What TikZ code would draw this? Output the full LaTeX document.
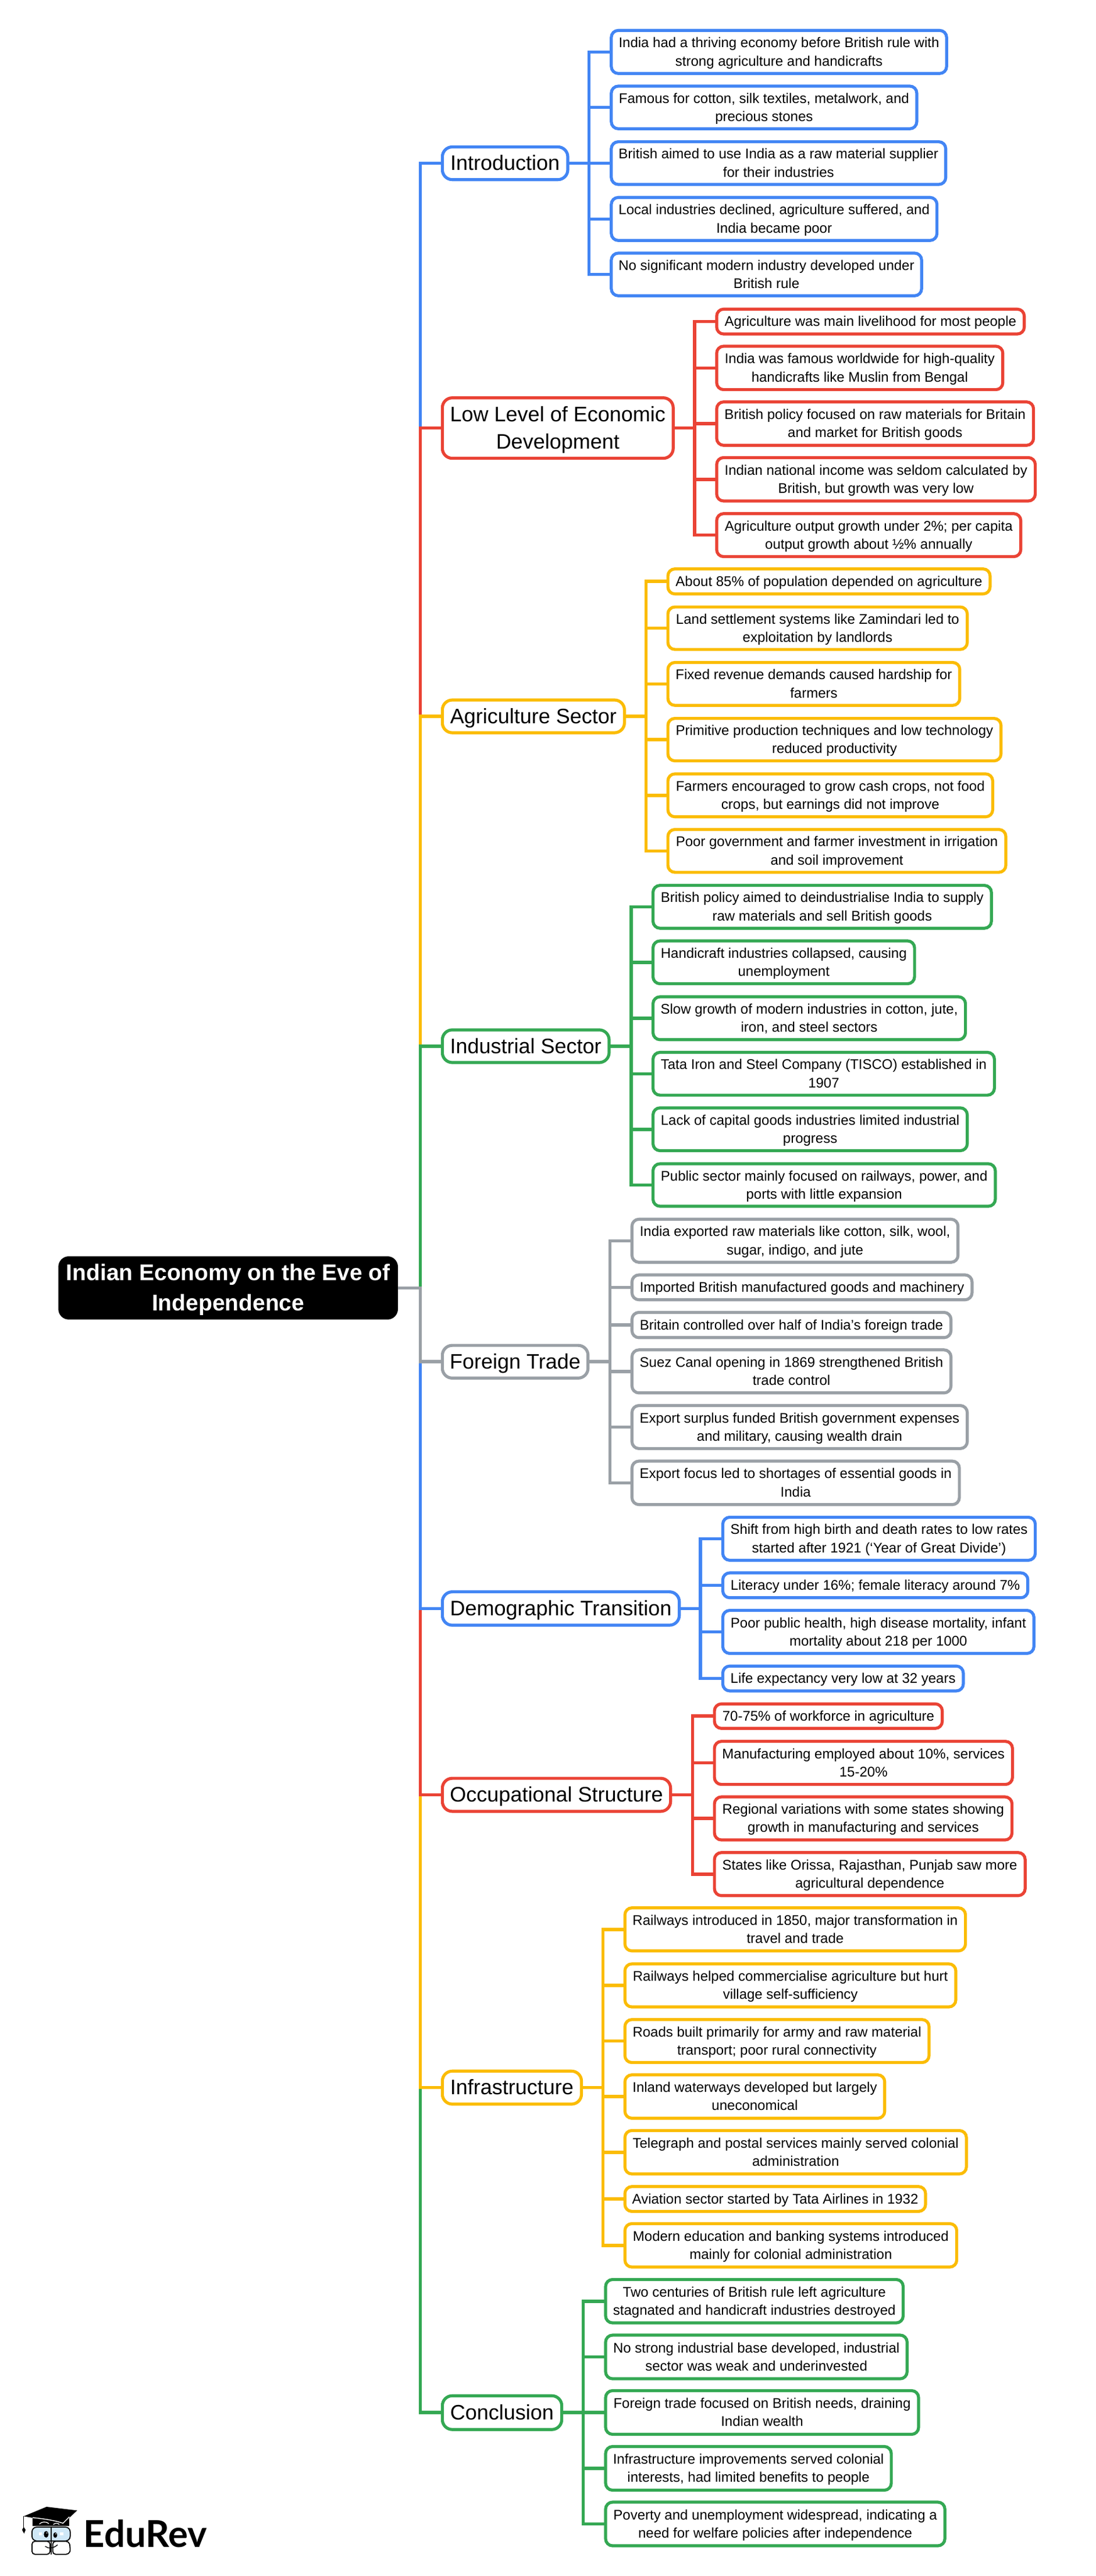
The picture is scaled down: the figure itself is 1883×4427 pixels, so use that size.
\documentclass[tikz,border=0pt]{standalone}
\usepackage{fontspec}
\setmainfont{Liberation Sans}
\newfontfamily\logofont{Lato}
\definecolor{cblue}{HTML}{4285F4}
\definecolor{cred}{HTML}{EA4335}
\definecolor{cyellow}{HTML}{FBBC04}
\definecolor{cgreen}{HTML}{34A853}
\definecolor{cgray}{HTML}{9AA0A6}
\definecolor{clens}{HTML}{CFE8F7}
\tikzset{
  leaf/.style={draw, fill=white, line width=5.2pt, rounded corners=12pt, inner sep=0pt, outer sep=0pt, align=center, text=black, font=\fontsize{24}{31.2}\selectfont},
  branch/.style={draw, fill=white, line width=5.2pt, rounded corners=17pt, inner sep=0pt, outer sep=0pt, align=center, text=black, font=\fontsize{36}{46.8}\selectfont},
  rootnode/.style={fill=black, rounded corners=18pt, inner sep=0pt, outer sep=0pt, align=center, text=white, font=\fontsize{39}{52}\selectfont\bfseries},
  link/.style={line width=5.6pt, line join=miter, line cap=butt},
}
\newcommand{\placenode}[7]{% style, name, x1, y1, x2, y2, text
  \node[#1, minimum width={(#5-#3)*1pt}, minimum height={(#6-#4)*1pt}] (#2) at ({(#3+#5)/2},{-(#4+#6)/2}) {\rule{0pt}{1em}#7\rule[-.32em]{0pt}{.32em}};}
\begin{document}
\begin{tikzpicture}[x=1pt,y=1pt]
\useasboundingbox (0,0) rectangle (1883,-4427);
% root
\placenode{rootnode}{root}{100.3}{2159}{684}{2267.7}{Indian Economy on the Eve of\\Independence}
% branches
\placenode{branch,draw=cblue}{b1}{760.4}{252.5}{976}{308.7}{Introduction}
\placenode{branch,draw=cred}{b2}{760.4}{683.7}{1157.2}{787.6}{Low Level of Economic\\Development}
\placenode{branch,draw=cyellow}{b3}{760.4}{1203}{1073.4}{1259.2}{Agriculture Sector}
\placenode{branch,draw=cgreen}{b4}{760.4}{1769.9}{1047}{1826}{Industrial Sector}
\placenode{branch,draw=cgray}{b5}{760.4}{2312.1}{1010.8}{2368.3}{Foreign Trade}
\placenode{branch,draw=cblue}{b6}{760.4}{2735.6}{1167.7}{2793}{Demographic Transition}
\placenode{branch,draw=cred}{b7}{760.4}{3056.1}{1152.7}{3112.9}{Occupational Structure}
\placenode{branch,draw=cyellow}{b8}{760.4}{3559.3}{999.5}{3616}{Infrastructure}
\placenode{branch,draw=cgreen}{b9}{760.4}{4117.2}{965.6}{4175.2}{Conclusion}
% leaves: introduction
\placenode{leaf,draw=cblue}{a1}{1050.8}{52.3}{1627.2}{126.3}{India had a thriving economy before British rule with\\strong agriculture and handicrafts}
\placenode{leaf,draw=cblue}{a2}{1050.8}{148}{1575.9}{221.3}{Famous for cotton, silk textiles, metalwork, and\\precious stones}
\placenode{leaf,draw=cblue}{a3}{1050.8}{243.6}{1625.7}{317}{British aimed to use India as a raw material supplier\\for their industries}
\placenode{leaf,draw=cblue}{a4}{1050.8}{339.3}{1610.6}{413.3}{Local industries declined, agriculture suffered, and\\India became poor}
\placenode{leaf,draw=cblue}{a5}{1050.8}{435}{1584.2}{508.3}{No significant modern industry developed under\\British rule}
% low level
\placenode{leaf,draw=cred}{c1}{1231.9}{531.3}{1760.7}{574}{Agriculture was main livelihood for most people}
\placenode{leaf,draw=cred}{c2}{1231.9}{595}{1723.8}{669.6}{India was famous worldwide for high-quality\\handicrafts like Muslin from Bengal}
\placenode{leaf,draw=cred}{c3}{1231.9}{690.7}{1776.6}{765.3}{British policy focused on raw materials for Britain\\and market for British goods}
\placenode{leaf,draw=cred}{c4}{1231.9}{786.4}{1779.6}{861}{Indian national income was seldom calculated by\\British, but growth was very low}
\placenode{leaf,draw=cred}{c5}{1231.9}{882.7}{1754.7}{956.6}{Agriculture output growth under 2\%; per capita\\output growth about ½\% annually}
% agriculture
\placenode{leaf,draw=cyellow}{d1}{1148.1}{977.7}{1701.9}{1020.7}{About 85\% of population depended on agriculture}
\placenode{leaf,draw=cyellow}{d2}{1148.1}{1043.1}{1662.7}{1116.1}{Land settlement systems like Zamindari led to\\exploitation by landlords}
\placenode{leaf,draw=cyellow}{d3}{1148.1}{1138.5}{1649.8}{1212.2}{Fixed revenue demands caused hardship for\\farmers}
\placenode{leaf,draw=cyellow}{d4}{1148.1}{1234.6}{1720.7}{1307.6}{Primitive production techniques and low technology\\reduced productivity}
\placenode{leaf,draw=cyellow}{d5}{1148.1}{1330}{1706.4}{1403.7}{Farmers encouraged to grow cash crops, not food\\crops, but earnings did not improve}
\placenode{leaf,draw=cyellow}{d6}{1148.1}{1425.5}{1729}{1499.1}{Poor government and farmer investment in irrigation\\and soil improvement}
% industrial
\placenode{leaf,draw=cgreen}{e1}{1122.5}{1521.6}{1704.2}{1595.2}{British policy aimed to deindustrialise India to supply\\raw materials and sell British goods}
\placenode{leaf,draw=cgreen}{e2}{1122.5}{1617}{1572.1}{1690.6}{Handicraft industries collapsed, causing\\unemployment}
\placenode{leaf,draw=cgreen}{e3}{1122.5}{1713}{1659.6}{1786.7}{Slow growth of modern industries in cotton, jute,\\iron, and steel sectors}
\placenode{leaf,draw=cgreen}{e4}{1122.5}{1808.5}{1709.4}{1882.1}{Tata Iron and Steel Company (TISCO) established in\\1907}
\placenode{leaf,draw=cgreen}{e5}{1122.5}{1903.9}{1662.7}{1977.5}{Lack of capital goods industries limited industrial\\progress}
\placenode{leaf,draw=cgreen}{e6}{1122.5}{2000}{1710.9}{2073}{Public sector mainly focused on railways, power, and\\ports with little expansion}
% foreign
\placenode{leaf,draw=cgray}{f1}{1086.3}{2095.3}{1646.8}{2169.3}{India exported raw materials like cotton, silk, wool,\\sugar, indigo, and jute}
\placenode{leaf,draw=cgray}{f2}{1086.3}{2191}{1670.9}{2233.7}{Imported British manufactured goods and machinery}
\placenode{leaf,draw=cgray}{f3}{1086.3}{2255.4}{1634.7}{2298.8}{Britain controlled over half of India’s foreign trade}
\placenode{leaf,draw=cgray}{f4}{1086.3}{2319.8}{1634.7}{2393.8}{Suez Canal opening in 1869 strengthened British\\trade control}
\placenode{leaf,draw=cgray}{f5}{1086.3}{2415.5}{1662.7}{2489.4}{Export surplus funded British government expenses\\and military, causing wealth drain}
\placenode{leaf,draw=cgray}{f6}{1086.3}{2511}{1649.1}{2585.7}{Export focus led to shortages of essential goods in\\India}
% demographic
\placenode{leaf,draw=cblue}{g1}{1242.4}{2607.4}{1779.6}{2681.4}{Shift from high birth and death rates to low rates\\started after 1921 (‘Year of Great Divide’)}
\placenode{leaf,draw=cblue}{g2}{1242.4}{2703}{1766.8}{2745.8}{Literacy under 16\%; female literacy around 7\%}
\placenode{leaf,draw=cblue}{g3}{1242.4}{2767.5}{1777.3}{2841.5}{Poor public health, high disease mortality, infant\\mortality about 218 per 1000}
\placenode{leaf,draw=cblue}{g4}{1242.4}{2863.2}{1655.9}{2905.9}{Life expectancy very low at 32 years}
% occupational
\placenode{leaf,draw=cred}{h1}{1228.1}{2928.2}{1619.7}{2970.3}{70-75\% of workforce in agriculture}
\placenode{leaf,draw=cred}{h2}{1228.1}{2992.6}{1740.4}{3066.6}{Manufacturing employed about 10\%, services\\15-20\%}
\placenode{leaf,draw=cred}{h3}{1228.1}{3088}{1739.6}{3162}{Regional variations with some states showing\\growth in manufacturing and services}
\placenode{leaf,draw=cred}{h4}{1228.1}{3183.7}{1762.2}{3257.7}{States like Orissa, Rajasthan, Punjab saw more\\agricultural dependence}
% infrastructure
\placenode{leaf,draw=cyellow}{i1}{1074.2}{3278.7}{1659.6}{3352.7}{Railways introduced in 1850, major transformation in\\travel and trade}
\placenode{leaf,draw=cyellow}{i2}{1074.2}{3375}{1643}{3449}{Railways helped commercialise agriculture but hurt\\village self-sufficiency}
\placenode{leaf,draw=cyellow}{i3}{1074.2}{3470.7}{1597}{3544.6}{Roads built primarily for army and raw material\\transport; poor rural connectivity}
\placenode{leaf,draw=cyellow}{i4}{1074.2}{3565.7}{1520.8}{3640.3}{Inland waterways developed but largely\\uneconomical}
\placenode{leaf,draw=cyellow}{i5}{1074.2}{3661.4}{1661.2}{3736}{Telegraph and postal services mainly served colonial\\administration}
\placenode{leaf,draw=cyellow}{i6}{1074.2}{3757.7}{1591}{3800.4}{Aviation sector started by Tata Airlines in 1932}
\placenode{leaf,draw=cyellow}{i7}{1074.2}{3821.4}{1644.6}{3896}{Modern education and banking systems introduced\\mainly for colonial administration}
% conclusion
\placenode{leaf,draw=cgreen}{j1}{1041}{3917.4}{1552.5}{3992}{Two centuries of British rule left agriculture\\stagnated and handicraft industries destroyed}
\placenode{leaf,draw=cgreen}{j2}{1041}{4013}{1559.3}{4088}{No strong industrial base developed, industrial\\sector was weak and underinvested}
\placenode{leaf,draw=cgreen}{j3}{1041}{4108.4}{1579}{4183.5}{Foreign trade focused on British needs, draining\\Indian wealth}
\placenode{leaf,draw=cgreen}{j4}{1041}{4204.4}{1532.1}{4279.5}{Infrastructure improvements served colonial\\interests, had limited benefits to people}
\placenode{leaf,draw=cgreen}{j5}{1041}{4300}{1624.2}{4375}{Poverty and unemployment widespread, indicating a\\need for welfare policies after independence}
% trunk and bus positions
\coordinate (trunk) at (722.6,0);
\coordinate (bus1) at (1012.3,0);
\coordinate (bus2) at (1194.2,0);
\coordinate (bus3) at (1110.4,0);
\coordinate (bus4) at (1084.8,0);
\coordinate (bus5) at (1048.5,0);
\coordinate (bus6) at (1204,0);
\coordinate (bus7) at (1190.4,0);
\coordinate (bus8) at (1036.5,0);
\coordinate (bus9) at (1002.5,0);
% root to branches: nearest branch drawn last
\foreach \b/\c in {b1/cblue,b2/cred,b3/cyellow,b4/cgreen,b9/cgreen,b8/cyellow,b7/cred,b6/cblue,b5/cgray}
  \draw[link,\c] (root.east) -- (trunk|-root.east) |- (\b.west);
% branch to leaves
\foreach \n/\b/\k/\c in {a1/b1/bus1/cblue,a2/b1/bus1/cblue,a3/b1/bus1/cblue,a4/b1/bus1/cblue,a5/b1/bus1/cblue,
  c1/b2/bus2/cred,c2/b2/bus2/cred,c3/b2/bus2/cred,c4/b2/bus2/cred,c5/b2/bus2/cred,
  d1/b3/bus3/cyellow,d2/b3/bus3/cyellow,d3/b3/bus3/cyellow,d4/b3/bus3/cyellow,d5/b3/bus3/cyellow,d6/b3/bus3/cyellow,
  e1/b4/bus4/cgreen,e2/b4/bus4/cgreen,e3/b4/bus4/cgreen,e4/b4/bus4/cgreen,e5/b4/bus4/cgreen,e6/b4/bus4/cgreen,
  f1/b5/bus5/cgray,f2/b5/bus5/cgray,f3/b5/bus5/cgray,f4/b5/bus5/cgray,f5/b5/bus5/cgray,f6/b5/bus5/cgray,
  g1/b6/bus6/cblue,g2/b6/bus6/cblue,g3/b6/bus6/cblue,g4/b6/bus6/cblue,
  h1/b7/bus7/cred,h2/b7/bus7/cred,h3/b7/bus7/cred,h4/b7/bus7/cred,
  i1/b8/bus8/cyellow,i2/b8/bus8/cyellow,i3/b8/bus8/cyellow,i4/b8/bus8/cyellow,i5/b8/bus8/cyellow,i6/b8/bus8/cyellow,i7/b8/bus8/cyellow,
  j1/b9/bus9/cgreen,j2/b9/bus9/cgreen,j3/b9/bus9/cgreen,j4/b9/bus9/cgreen,j5/b9/bus9/cgreen}
  \draw[link,\c] (\b.east) -- (\k|-\b.east) |- (\n.west);
% logo
\node[anchor=base west, inner sep=0pt, font=\fontsize{63.5}{63.5}\logofont\bfseries] (logotext) at (143.5,-4377.7) {EduRev};
\begin{scope}[shift={(0pt,-4227pt)},x=0.33333pt,y=-0.33333pt]
  \fill[black] (122,292) -- (240,243) -- (398,262) -- (357,300) -- (357,342) -- (168,342) -- (168,300) -- cycle;
  \draw[white,line width=1.4pt] (168,299) .. controls (230,305) and (290,315) .. (325,328) -- (358,295);
  \draw[white,line width=1.3pt] (203,332) .. controls (215,318) and (240,318) .. (252,330);
  \draw[white,line width=1.3pt] (275,334) .. controls (285,326) and (298,326) .. (306,334);
  \draw[black,line width=1pt] (122,292) -- (122,350);
  \fill[black] (122,347) -- (132,362) -- (124,381) -- (114,362) -- cycle;
  \draw[black,line width=1.8pt,fill=white,rounded corners=5pt] (165,421) -- (165,488) -- (258,488) -- (258,421) -- cycle;
  \draw[black,line width=1.8pt,fill=white,rounded corners=5pt] (272,421) -- (356,421) .. controls (362,450) and (362,470) .. (356,488) -- (272,488) -- cycle;
  \draw[black,line width=1.8pt,fill=clens,rounded corners=8pt] (165,348) rectangle (362,419);
  \draw[black,line width=1.8pt] (265,345) -- (265,490);
  \fill[black] (238,385) ellipse [x radius=12, y radius=17];
  \fill[black] (285,389) ellipse [x radius=10, y radius=14];
  \fill[white] (242,378) circle [radius=3];
  \fill[white] (288,383) circle [radius=3];
  \fill[white] (200,375) rectangle (217,389);
  \fill[white] (310,375) rectangle (327,389);
  \draw[black,line width=1.4pt] (233,447) .. controls (250,460) and (275,458) .. (297,439);
\end{scope}
\end{tikzpicture}
\end{document}
